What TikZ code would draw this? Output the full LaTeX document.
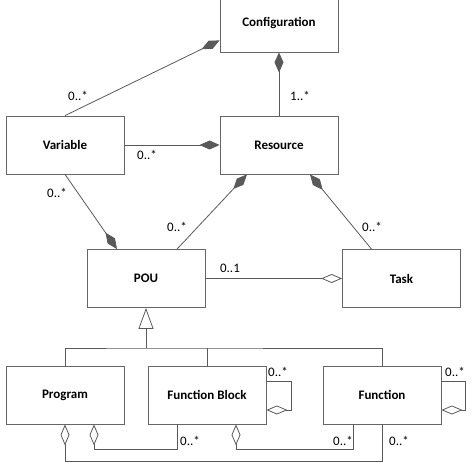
\documentclass[tikz,border=0pt]{standalone}
\usepackage{fontspec}
\setmainfont{Carlito}
\usetikzlibrary{arrows.meta}

\begin{document}
\begin{tikzpicture}[
  x=1pt, y=-1pt,
  box/.style={draw=black!60, line width=0.8pt, minimum width=118pt, minimum height=58pt,
    inner sep=0pt, font=\fontsize{13}{15}\selectfont\bfseries},
  link/.style={draw=black!65, line width=0.8pt},
  comp/.style={link, {Diamond[length=20pt, width=9pt]}-},
  agg/.style={link, {Diamond[open, length=21pt, width=9pt]}-},
  mult/.style={font=\fontsize{13}{15}\selectfont, inner sep=0pt},
]
\useasboundingbox (0,0) rectangle (474,474);

% === CLASSES ===
\node[box] (conf) at (279,23) {Configuration};
\node[box] (var)  at (65,145)  {Variable};
\node[box] (res)  at (279,145) {Resource};
\node[box] (pou)  at (146,278.5) {POU};
\node[box] (task) at (401.5,278.5) {Task};
\node[box] (prog) at (65,395)  {Program};
\node[box] (fb)   at (207,395) {Function Block};
\node[box] (fun)  at (382,395) {Function};

% === COMPOSITIONS ===
\draw[comp] ([yshift=12pt]conf.south west) -- (var.north);
\draw[comp] (conf.south) -- (res.north);
\draw[comp] (res.west) -- (var.east);
\draw[comp] ([xshift=-29pt]pou.north) -- (var.south);
\draw[comp] ([xshift=-32pt]res.south) -- ([xshift=31pt]pou.north);
\draw[comp] ([xshift=31pt]res.south) -- ([xshift=-30pt]task.north);
\draw[agg] (task.west) -- (pou.east);

% === GENERALIZATION ===
\coordinate (gen) at (146,348);
\draw[link, -{Triangle[open, length=21pt, width=15pt]}] (gen) -- (pou.south);
\draw[link] (prog.north) |- (gen) -| (fun.north);
\draw[link] (fb.north) -- (fb.north |- gen);

% === SELF LOOPS ===
\draw[agg] ([yshift=-15pt]fb.east) -- ++(25,0) -- ++(0,-29) -- ([yshift=14pt]fb.east);
\draw[agg] ([yshift=-15pt]fun.east) -- ++(24,0) -- ++(0,-29) -- ([yshift=14pt]fun.east);

% === CALLS ===
\draw[agg] ([xshift=29pt]prog.south) -- ++(0,25) -| ([xshift=-30pt]fb.south);
\draw[agg] ([xshift=29pt]fb.south) -- ++(0,25) -| ([xshift=-29pt]fun.south);
\draw[agg] (prog.south) -- ++(0,37) -| (fun.south);

% === MULTIPLICITIES ===
\node[mult] (m1) at (78,96) {0..*};
\node[mult] (m2) at (300,96) {1..*};
\node[mult] (m3) at (147,155) {0..*};
\node[mult] (m4) at (57,193) {0..*};
\node[mult] (m5) at (177,227) {0..*};
\node[mult] (m6) at (372,227) {0..*};
\node[mult] (m7) at (230,268) {0..1};
\node[mult] (m8) at (278,372) {0..*};
\node[mult] (m9) at (455,372) {0..*};
\node[mult] (m10) at (190,441) {0..*};
\node[mult] (m11) at (343,441) {0..*};
\node[mult] (m12) at (399,441) {0..*};
\end{tikzpicture}
\end{document}
